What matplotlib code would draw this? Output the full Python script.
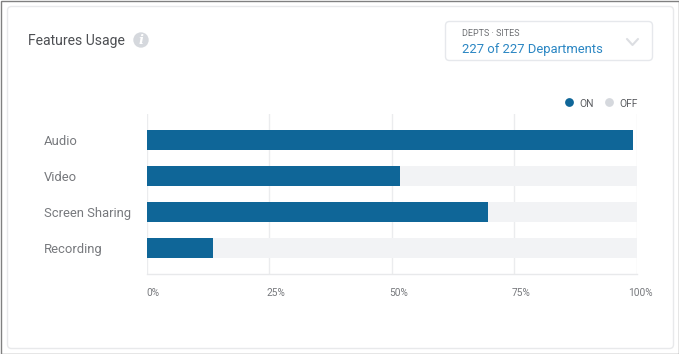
import matplotlib
matplotlib.use("Agg")
import matplotlib.pyplot as plt
from matplotlib.patches import FancyBboxPatch, Rectangle, Circle
from matplotlib.transforms import ScaledTranslation

categories = ["Audio", "Video", "Screen Sharing", "Recording"]
on_values = [99.3, 51.7, 69.6, 13.5]
off_values = [0, 48.3, 30.4, 86.5]
tick_values = [0, 25, 50, 75, 100]
tick_labels = ["0%", "25%", "50%", "75%", "100%"]

W, H = 679, 354
plt.rcParams['font.family'] = ['Roboto', 'DejaVu Sans']
fig = plt.figure(figsize=(W/100, H/100), dpi=100, facecolor="white")

# overlay in pixel coordinates (y down)
bg = fig.add_axes([0, 0, 1, 1], zorder=0)
bg.set_xlim(0, W); bg.set_ylim(H, 0); bg.axis("off")
bg.add_patch(Rectangle((0.5, 0.5), W-1, H-1, fc="white", ec="#808080", lw=1.0))
bg.add_patch(FancyBboxPatch((7.5, 6.5), 666, 342, boxstyle="round,pad=0,rounding_size=4",
                            fc="white", ec="#e8e9eb", lw=1.0))
bg.text(28, 41, "Features Usage", fontsize=10.1, color="#4d4f53", va="center", ha="left")
bg.add_patch(Circle((141, 40), 7.7, fc="#d5d8dd", ec="none"))
bg.text(141, 40.5, "i", fontsize=9.5, color="white", va="center", ha="center",
        fontweight="bold", fontstyle="italic", family="DejaVu Serif")
bg.add_patch(FancyBboxPatch((445.5, 21.5), 207, 39, boxstyle="round,pad=0,rounding_size=4",
                            fc="white", ec="#e6e8ec", lw=1.0))
bg.text(462, 33, "DEPTS · SITES", fontsize=6.5, color="#6e7074", va="center", ha="left")
bg.text(462, 50, "227 of 227 Departments", fontsize=9.4, color="#2a86c3", va="center", ha="left")
bg.plot([627, 632.5, 638], [39, 45, 39], color="#dcdee2", lw=1.5, solid_capstyle="round")
bg.scatter([569], [102], s=40, color="#0f6698", linewidths=0)
bg.text(579, 104, "ON", fontsize=7.4, color="#5a5c60", va="center", ha="left")
bg.scatter([609], [102], s=40, color="#d5d8dd", linewidths=0)
bg.text(619, 104, "OFF", fontsize=7.4, color="#5a5c60", va="center", ha="left")

# plot area
x0, x1, y0, y1 = 147.0, 636.6, 114.0, 273.5
ax = fig.add_axes([x0/W, 1-y1/H, (x1-x0)/W, (y1-y0)/H], zorder=1)
ax.patch.set_alpha(0)
ax.set_xlim(0, 100)
ax.set_ylim((y1-140)/36, (y0-140)/36)
ypos = list(range(len(categories)))
ax.barh(ypos, on_values, height=20/36, color="#0f6698", zorder=3)
ax.barh(ypos, off_values, left=on_values, height=20/36, color="#f2f3f5", zorder=3)

ax.set_xticks(tick_values)
ax.set_xticklabels(tick_labels, fontsize=7.3, color="#77797d")
ax.set_yticks(ypos)
ax.set_yticklabels(categories, fontsize=9.4, color="#77797d", ha="left")
ax.tick_params(axis="x", length=0, pad=10.5)
ax.tick_params(axis="y", length=0, pad=74.2)
for lab, dx in zip(ax.get_xticklabels(), [5.7, 6.5, 6.5, 6.8, 4.3]):
    lab.set_transform(lab.get_transform() + ScaledTranslation(dx/100, 0, fig.dpi_scale_trans))
ax.grid(axis="x", color="#ebecee", lw=1.0, zorder=0)
ax.set_axisbelow(True)
for s in ["top", "right", "left"]:
    ax.spines[s].set_visible(False)
ax.spines["bottom"].set_color("#e8e9eb")
ax.spines["bottom"].set_linewidth(1.0)

fig.savefig("out.png", dpi=100, facecolor="white")
